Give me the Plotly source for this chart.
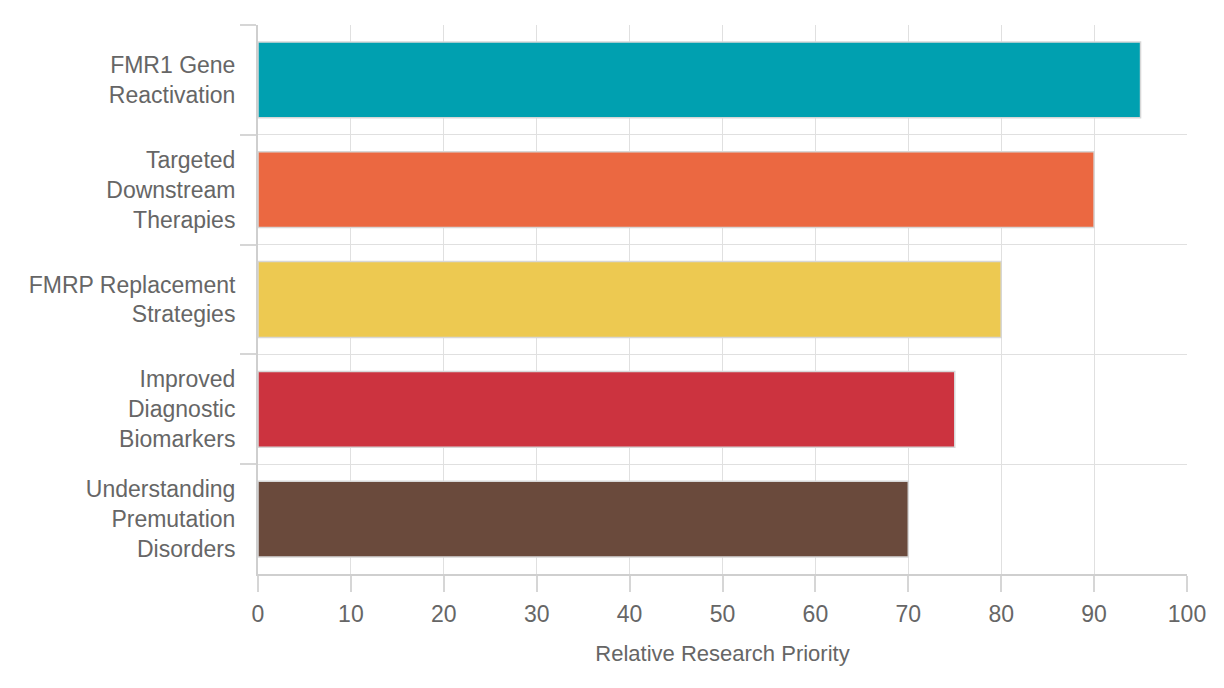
import plotly.graph_objects as go

categories = [
    "FMR1 Gene<br>Reactivation",
    "Targeted<br>Downstream<br>Therapies",
    "FMRP Replacement<br>Strategies",
    "Improved<br>Diagnostic<br>Biomarkers",
    "Understanding<br>Premutation<br>Disorders",
]
values = [95, 90, 80, 75, 70]
colors = ["#00A0B0", "#EB6841", "#EDC951", "#CC333F", "#6A4A3C"]

fig = go.Figure(
    go.Bar(
        x=values,
        y=categories,
        orientation="h",
        marker=dict(color=colors, line=dict(color="rgba(215,215,215,1)", width=1.5)),
        width=0.69,
        hoverinfo="x+y",
    )
)

font_family = "Liberation Sans, Arial, sans-serif"
fig.update_layout(
    width=1224,
    height=688,
    margin=dict(l=258, r=37, t=25, b=114),
    plot_bgcolor="white",
    paper_bgcolor="white",
    showlegend=False,
    font=dict(family=font_family, size=23, color="#666666"),
)
fig.update_xaxes(
    range=[0, 100],
    dtick=10,
    showgrid=True,
    gridcolor="#e0e0e0",
    gridwidth=1.3,
    zeroline=False,
    showline=True,
    linecolor="#cfcfcf",
    linewidth=2,
    ticks="outside",
    ticklen=16,
    tickcolor="#d6d6d6",
    tickwidth=1.5,
    ticklabelstandoff=2,
    tickfont=dict(size=23, color="#666666"),
    title=dict(text="Relative Research Priority", font=dict(size=22, color="#666666"), standoff=20),
)
fig.update_yaxes(
    type="category",
    autorange=False,
    range=[4.5, -0.5],
    tickson="boundaries",
    showgrid=True,
    gridcolor="#e0e0e0",
    gridwidth=1.3,
    showline=True,
    linecolor="#cfcfcf",
    linewidth=2,
    ticks="outside",
    ticklen=16,
    tickcolor="#d6d6d6",
    tickwidth=1.5,
    ticklabelstandoff=16,
    tickfont=dict(size=23, color="#666666"),
)

fig.write_html("out.html")
